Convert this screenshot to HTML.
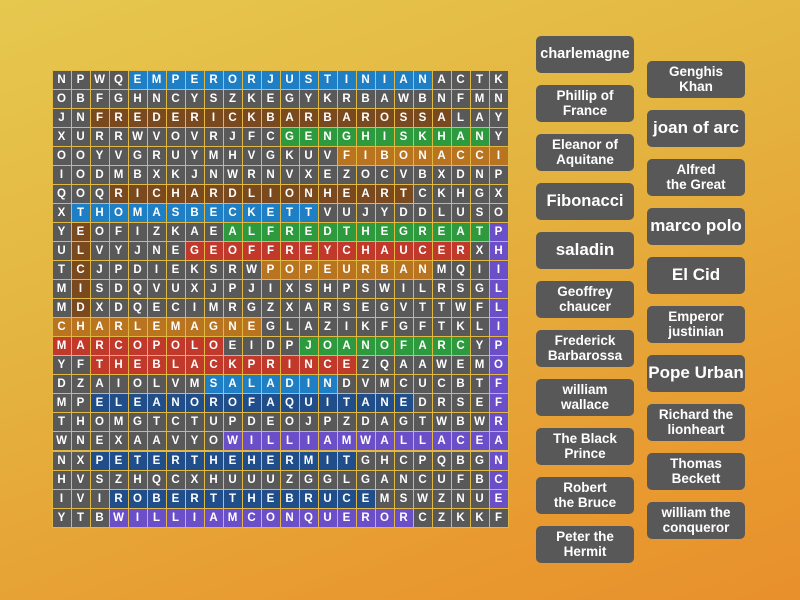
<!DOCTYPE html>
<html><head><meta charset="utf-8"><style>
body{margin:0;width:800px;height:600px;overflow:hidden;font-family:"Liberation Sans",sans-serif;
background:linear-gradient(160deg,#e6c84f 0%,#e4b440 40%,#e89a30 80%,#e8902c 100%);position:relative}
#grid{position:absolute;left:52px;top:70px;width:457px;height:458px;background:#e2b844}
.c{position:absolute;width:18px;height:18px;background:#595959;color:#fff;font-weight:bold;font-size:11.5px;line-height:18px;text-align:center}
.b{position:absolute;width:98px;height:37px;background:#585858;border-radius:5px;color:#fff;font-weight:bold;display:flex;align-items:center;justify-content:center;text-align:center;font-size:13.5px;line-height:14.5px}
.b.big{font-size:17px}
</style></head><body>
<div id="grid"></div>
<div id="btns"></div>
<script>
const rows=["NPWQEMPERORJUSTINIANACTK","OBFGHNCYSZKEGYKRBAWBNFMN","JNFREDERICKBARBAROSSALAY","XURRWVOVRJFCGENGHISKHANY","OOYVGRUYMHVGKUVFIBONACCI","IODMBXKJNWRNVXEZOCVBXDNP","QOQRICHARDLIONHEARTCKHGX","XTHOMASBECKETTVUJYDDLUSO","YEOFIZKAEALFREDTHEGREATP","ULVYJNEGEOFFREYCHAUCERXH","TCJPDIEKSRWPOPEURBANMQII","MISDQVUXJPJIXSHPSWILRSGL","MDXDQECIMRGZXARSEGVTTWFL","CHARLEMAGNEGLAZIKFGFTKLI","MARCOPOLOEIDPJOANOFARCYP","YFTHEBLACKPRINCEZQAAWEMO","DZAIOLVMSALADINDVMCUCBTF","MPELEANOROFAQUITANEDRSEF","THOMGTCTUPDEOJPZDAGTWBWR","WNEXAAVYOWILLIAMWALLACEA","NXPETERTHEHERMITGHCPQBGN","HVSZHQCXHUUUZGGLGANCUFBC","IVIROBERTTHEBRUCEMSWZNUE","YTBWILLIAMCONQUERORCZKKF"];
const BL="#1f7fc4",BR="#7a4a1e",GR="#2e9a3e",OR="#b8741f",RD="#c0392b",DB="#1f4e8a",PU="#6a4fc8";
const H=[[0,4,19,BL],[2,2,20,BR],[3,12,22,GR],[4,15,23,OR],[6,3,18,BR],[7,1,13,BL],[8,9,22,GR],[9,7,21,RD],[10,11,19,OR],[13,0,10,OR],[14,0,8,RD],[14,13,21,GR],[15,2,15,RD],[16,8,14,BL],[17,2,18,DB],[19,9,22,PU],[20,2,15,DB],[22,3,16,DB],[23,3,18,PU]];
const V=[[1,8,12,BR],[23,8,22,PU]];
const col={};
H.forEach(h=>{for(let c=h[1];c<=h[2];c++)col[h[0]+","+c]=h[3];});
V.forEach(v=>{for(let r=v[1];r<=v[2];r++)col[r+","+v[0]]=v[3];});
const g=document.getElementById('grid');
rows.forEach((row,r)=>{[...row].forEach((ch,c)=>{
 const d=document.createElement('div');d.className='c';
 
 
 d.style.left=(0.5+c*19)+'px';d.style.top=(0.5+r*19.05)+'px';
 if(col[r+","+c])d.style.background=col[r+","+c];
 d.textContent=ch;g.appendChild(d);});});
const L=["charlemagne","Phillip of<br>France","Eleanor of<br>Aquitane","Fibonacci","saladin","Geoffrey<br>chaucer","Frederick<br>Barbarossa","william<br>wallace","The Black<br>Prince","Robert<br>the Bruce","Peter the<br>Hermit"];
const R=["Genghis<br>Khan","joan of arc","Alfred<br>the Great","marco polo","El Cid","Emperor<br>justinian","Pope Urban","Richard the<br>lionheart","Thomas<br>Beckett","william the<br>conqueror"];
const B=document.getElementById('btns');
function mk(t,x,y){const d=document.createElement('div');d.className='b'+(t.includes('<br>')?'':(t.length<=11?' big':''));
 if(t==='charlemagne')d.style.fontSize='14.5px';
 if(t==='Fibonacci')d.style.fontSize='16.5px';
 
 
 d.style.left=x+'px';d.style.top=y+'px';d.innerHTML=t;B.appendChild(d);}
L.forEach((t,i)=>mk(t,536,36+i*49));
R.forEach((t,i)=>mk(t,647,61+i*49));
</script>
</body></html>
